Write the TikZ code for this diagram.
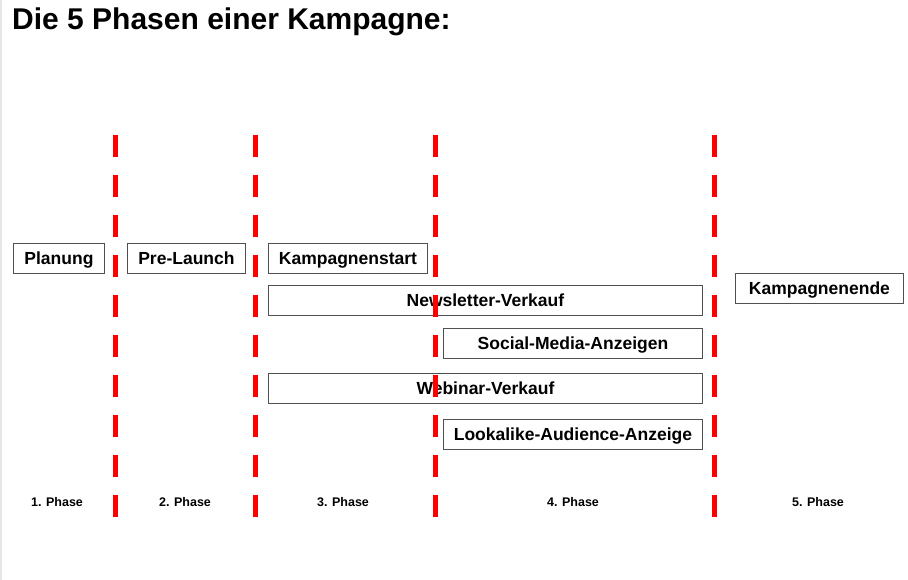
\documentclass[tikz,border=0pt]{standalone}
\usepackage{fontspec}
\setmainfont{Liberation Sans}
\usetikzlibrary{positioning}
\definecolor{sepred}{HTML}{FF0000}
\definecolor{boxline}{HTML}{505050}
\definecolor{pageedge}{HTML}{E6E6E6}

\begin{document}
\begin{tikzpicture}[
    x=1pt, y=-1pt,
    every node/.style={font=\bfseries},
    phasebox/.style={
        rectangle, draw=boxline, line width=0.9pt, fill=white,
        minimum height=30pt, inner sep=0pt, anchor=north west,
        text height=12.5pt, text depth=0pt,
        font=\fontsize{17.5}{20}\selectfont\bfseries
    },
    phaselabel/.style={font=\fontsize{12.5}{14}\selectfont\bfseries},
    separator/.style={sepred, line width=5pt, dash pattern=on 22pt off 18pt},
]

% ===== Page =====
\fill[white] (0,0) rectangle (908,580);
\useasboundingbox (0,0) rectangle (908,580);
\draw[pageedge, line width=2pt] (1,0) -- (1,580);

% ===== Title =====
\node[anchor=base west, inner sep=0pt, font=\fontsize{30}{34}\selectfont\bfseries]
    (title) at (12,30) {Die 5 Phasen einer Kampagne:};

% ===== Row 1: phase steps =====
\node[phasebox, minimum width=91pt] (plan) at (13,243) {Planung};
\node[phasebox, minimum width=118pt] (prelaunch) at (127,243) {Pre-Launch};
\node[phasebox, minimum width=159pt] (start) at (268,243) {Kampagnenstart};
\node[phasebox, minimum width=168pt] (ende) at (735,273) {Kampagnenende};

% ===== Campaign activities =====
\node[phasebox, minimum width=434pt] (newsletter) at (268,285) {Newsletter-Verkauf};
\node[phasebox, minimum width=259pt] (social) at (443,328) {Social-Media-Anzeigen};
\node[phasebox, minimum width=434pt] (webinar) at (268,373) {Webinar-Verkauf};
\node[phasebox, minimum width=259pt] (lookalike) at (443,419) {Lookalike-Audience-Anzeige};

% ===== Phase separators (on top of the boxes) =====
\foreach \name/\xpos in {a/115, b/255, c/435, d/714} {
    \coordinate (sep\name top) at (\xpos,135);
    \coordinate (sep\name bot) at (\xpos,517);
    \draw[separator] (sep\name top) -- (sep\name bot);
}

% ===== Phase labels =====
\node[phaselabel] (ph1) at (57,502) {1. Phase};
\node[phaselabel] (ph2) at (185,502) {2. Phase};
\node[phaselabel] (ph3) at (343,502) {3. Phase};
\node[phaselabel] (ph4) at (573,502) {4. Phase};
\node[phaselabel] (ph5) at (818,502) {5. Phase};

\end{tikzpicture}
\end{document}
